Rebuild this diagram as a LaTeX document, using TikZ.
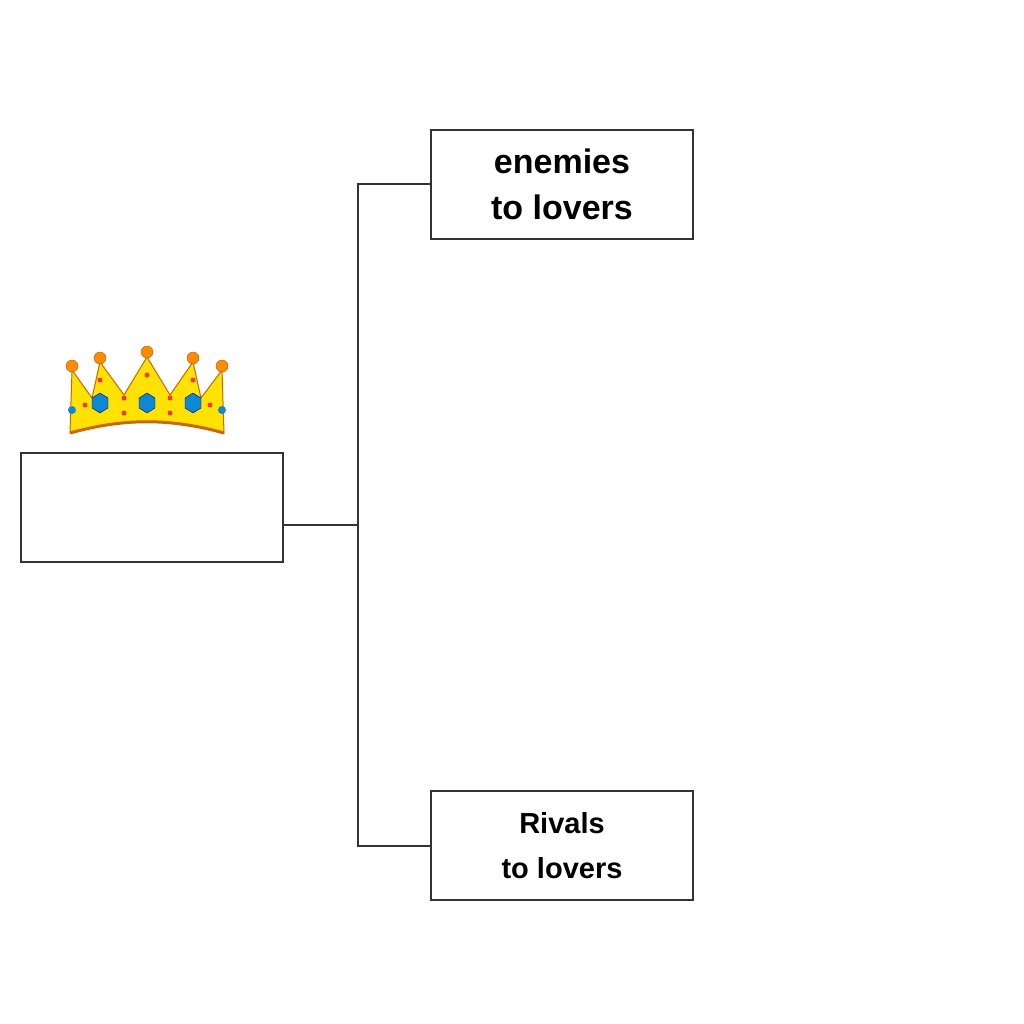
\documentclass[tikz,border=0pt]{standalone}
\usepackage{fontspec}
\setmainfont{Liberation Sans}
\begin{document}
\begin{tikzpicture}[x=1pt,y=-1pt,
  box/.style={draw=black!80,line width=2pt,fill=white,minimum width=262pt,minimum height=109pt,align=center,font=\bfseries,inner sep=0pt},
  wire/.style={draw=black!80,line width=2pt}]
\useasboundingbox[fill=white] (0,0) rectangle (1024,1024);
\node[box,font=\bfseries\fontsize{34}{46}\selectfont] (top) at (562,184.5) {enemies\\to lovers};
\node[box,font=\bfseries\fontsize{29}{45}\selectfont] (bot) at (562,845.5) {Rivals\\to lovers};
\node[box] (win) at (151.5,507) {};
\coordinate (j) at (358,525);
\draw[wire] (win.east |- j) -- (j);
\draw[wire] (top.west) -- (top.west -| j) -- (bot.west -| j) -- (bot.west);
% crown
\fill[yellow!85!orange,draw=orange!80!black,line width=1pt]
 (70,433) -- (72,370) -- (92,398) -- (100,362) -- (124,395) -- (147,357) -- (170,395) -- (193,362) -- (201,398) -- (222,370) -- (224,433)
 .. controls (170,418) and (124,418) .. (70,433);
\draw[orange!80!black,line width=3pt] (70,433) .. controls (124,418) and (170,418) .. (224,433);
\foreach \x/\y in {72/366,100/358,147/352,193/358,222/366}
  \fill[orange!90!yellow,draw=orange!70!black] (\x,\y) circle (6);
\foreach \x in {100,147,193}
  \fill[cyan!70!blue,draw=blue!60!black] (\x,403) +(0,-10) -- +(8,-5) -- +(8,5) -- +(0,10) -- +(-8,5) -- +(-8,-5) -- cycle;
\foreach \x in {72,222}
  \fill[cyan!70!blue] (\x,410) circle (4);
\foreach \x/\y in {85/405,124/398,170/398,210/405,124/413,170/413,100/380,193/380,147/375}
  \fill[red!80] (\x,\y) circle (2.5);
\end{tikzpicture}
\end{document}
